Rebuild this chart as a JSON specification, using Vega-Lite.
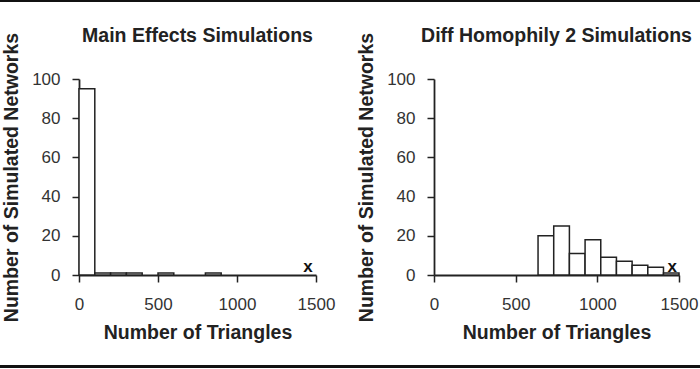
{
  "$schema": "https://vega.github.io/schema/vega-lite/v6.json",
  "padding": 0,
  "background": "white",
  "spacing": 23,
  "datasets": {
    "main": [
      {"x0": 0, "x1": 100, "count": 95},
      {"x0": 100, "x1": 200, "count": 1},
      {"x0": 200, "x1": 300, "count": 1},
      {"x0": 300, "x1": 400, "count": 1},
      {"x0": 500, "x1": 600, "count": 1},
      {"x0": 800, "x1": 900, "count": 1}
    ],
    "homophily": [
      {"x0": 637, "x1": 733, "count": 20},
      {"x0": 733, "x1": 829, "count": 25},
      {"x0": 829, "x1": 925, "count": 11},
      {"x0": 925, "x1": 1021, "count": 18},
      {"x0": 1021, "x1": 1117, "count": 9},
      {"x0": 1117, "x1": 1213, "count": 7},
      {"x0": 1213, "x1": 1309, "count": 5},
      {"x0": 1309, "x1": 1405, "count": 4},
      {"x0": 1405, "x1": 1500, "count": 1}
    ],
    "obs_main": [{"triangles": 1450, "y": 4, "label": "x"}],
    "obs_homophily": [{"triangles": 1458, "y": 4, "label": "x"}],
    "none": []
  },
  "vconcat": [
    {
      "width": 700, "height": 2,
      "data": {"name": "none"},
      "mark": {"type": "rule"},
      "encoding": {},
      "view": {"fill": "#111", "stroke": null}
    },
    {
      "spacing": 0,
      "hconcat": [
        {
          "width": 1, "height": 1,
          "data": {"name": "none"},
          "mark": {"type": "rule"},
          "encoding": {}
        },
        {
          "spacing": 21,
          "hconcat": [
            {
              "width": 237, "height": 196,
              "title": {"text": "Main Effects Simulations", "frame": "group"},
              "encoding": {
                "x": {"type": "quantitative", "scale": {"domain": [0, 1500], "nice": false, "zero": true},
                      "axis": {"values": [0, 500, 1000, 1500], "format": "d", "title": "Number of Triangles"}},
                "y": {"type": "quantitative", "scale": {"domain": [0, 100], "nice": false},
                      "axis": {"values": [0, 20, 40, 60, 80, 100], "title": "Number of Simulated Networks"}}
              },
              "layer": [
                {
                  "data": {"name": "main"},
                  "mark": {"type": "rect", "fill": "white", "stroke": "#222", "strokeWidth": 1.5},
                  "encoding": {
                    "x": {"field": "x0"},
                    "x2": {"field": "x1"},
                    "y": {"field": "count"},
                    "y2": {"datum": 0}
                  }
                },
                {
                  "data": {"name": "obs_main"},
                  "mark": {"type": "text", "fontWeight": "bold", "fontSize": 17, "baseline": "middle", "color": "#111"},
                  "encoding": {
                    "x": {"field": "triangles"},
                    "y": {"field": "y"},
                    "text": {"field": "label"}
                  }
                }
              ]
            },
            {
              "width": 245, "height": 196,
              "title": {"text": "Diff Homophily 2 Simulations", "frame": "group"},
              "encoding": {
                "x": {"type": "quantitative", "scale": {"domain": [0, 1500], "nice": false, "zero": true},
                      "axis": {"values": [0, 500, 1000, 1500], "format": "d", "title": "Number of Triangles"}},
                "y": {"type": "quantitative", "scale": {"domain": [0, 100], "nice": false},
                      "axis": {"values": [0, 20, 40, 60, 80, 100], "title": "Number of Simulated Networks"}}
              },
              "layer": [
                {
                  "data": {"name": "homophily"},
                  "mark": {"type": "rect", "fill": "white", "stroke": "#222", "strokeWidth": 1.5},
                  "encoding": {
                    "x": {"field": "x0"},
                    "x2": {"field": "x1"},
                    "y": {"field": "count"},
                    "y2": {"datum": 0}
                  }
                },
                {
                  "data": {"name": "obs_homophily"},
                  "mark": {"type": "text", "fontWeight": "bold", "fontSize": 17, "baseline": "middle", "color": "#111"},
                  "encoding": {
                    "x": {"field": "triangles"},
                    "y": {"field": "y"},
                    "text": {"field": "label"}
                  }
                }
              ]
            }
          ]
        }
      ]
    },
    {
      "width": 700, "height": 3,
      "data": {"name": "none"},
      "mark": {"type": "rule"},
      "encoding": {},
      "view": {"fill": "#111", "stroke": null}
    }
  ],
  "config": {
    "font": "Liberation Sans",
    "view": {"stroke": null},
    "axis": {
      "grid": false,
      "labelOverlap": false,
      "labelFlush": false,
      "domainColor": "#222",
      "domainWidth": 1.8,
      "tickColor": "#222",
      "tickWidth": 1.5,
      "tickSize": 7,
      "labelColor": "#333",
      "labelFontSize": 17,
      "labelFontWeight": "normal",
      "labelPadding": 5,
      "titleColor": "#222",
      "titleFontSize": 19.5,
      "titleFontWeight": "bold"
    },
    "axisY": {"titlePadding": 10, "labelPadding": 12},
    "axisX": {"titlePadding": 11, "labelPadding": 14},
    "title": {"fontSize": 19.5, "fontWeight": "bold", "color": "#222", "offset": -14}
  }
}
